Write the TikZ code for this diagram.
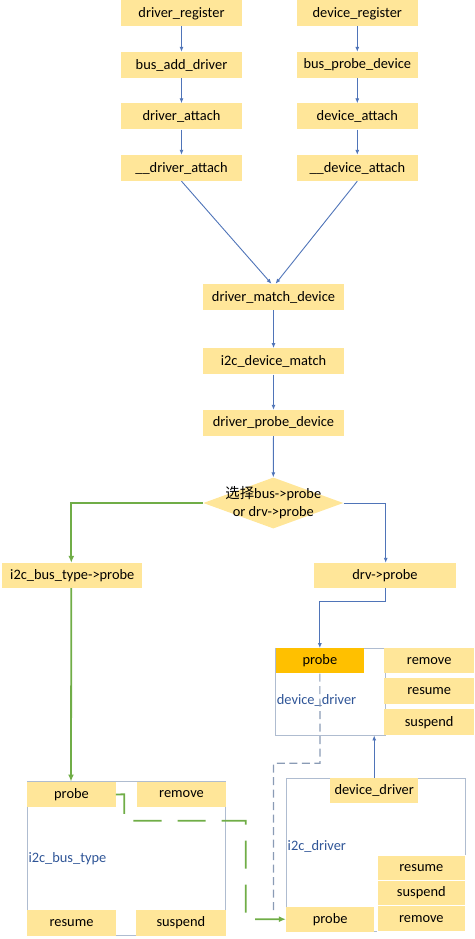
\documentclass[tikz,border=0pt]{standalone}
\usepackage{fontspec}
\setmainfont{Carlito}
\newfontfamily\cjkfont{Noto Sans CJK SC}
\usetikzlibrary{arrows.meta,shapes.geometric}
\definecolor{boxY}{HTML}{FFE699}
\definecolor{boxO}{HTML}{FFC000}
\definecolor{lineB}{HTML}{4F74B8}
\definecolor{frameC}{HTML}{AFBCD0}
\definecolor{dashC}{HTML}{8A9BB5}
\definecolor{grn}{HTML}{70AD47}
\definecolor{lblB}{HTML}{2F5597}
\tikzset{
  fbox/.style={fill=boxY, draw=none, inner sep=0pt, minimum height=26pt, font=\fontsize{14.4}{17}\selectfont, text=black},
  sepbox/.style={fbox, draw=white, line width=0.8pt},
  frame/.style={draw=frameC, line width=0.8pt, inner sep=0pt, fill=none},
  barrow/.style={draw=lineB, line width=0.9pt, -{Latex[length=5pt,width=4pt]}},
  garrow/.style={draw=grn, line width=1.8pt, -{Latex[length=7pt,width=6pt]}},
  lbl/.style={anchor=west, inner sep=0pt, text=lblB, font=\fontsize{14.4}{17}\selectfont},
}
\begin{document}
\begin{tikzpicture}[x=1pt,y=1pt]
\useasboundingbox (0,0) rectangle (474,-939);
% top chains
\node[fbox, minimum width=121pt] (dr) at (181.5,-13.3) {driver\_register};
\node[fbox, minimum width=121pt] (bad) at (181.5,-65) {bus\_add\_driver};
\node[fbox, minimum width=121pt] (da) at (181.5,-116.5) {driver\_attach};
\node[fbox, minimum width=121pt] (dda) at (181.5,-168) {\_\_driver\_attach};
\node[fbox, minimum width=121pt] (dvr) at (357.3,-13.3) {device\_register};
\node[fbox, minimum width=121pt] (bpd) at (357.3,-65) {bus\_probe\_device};
\node[fbox, minimum width=121pt] (dva) at (357.3,-116.5) {device\_attach};
\node[fbox, minimum width=121pt] (ddva) at (357.3,-168) {\_\_device\_attach};
\draw[barrow] (dr) -- (bad);
\draw[barrow] (bad) -- (da);
\draw[barrow] (da) -- (dda);
\draw[barrow] (dvr) -- (bpd);
\draw[barrow] (bpd) -- (dva);
\draw[barrow] (dva) -- (ddva);
% middle chain
\node[fbox, minimum width=141.6pt] (dmd) at (273.5,-297) {driver\_match\_device};
\node[fbox, minimum width=141.6pt] (idm) at (273.5,-361.3) {i2c\_device\_match};
\node[fbox, minimum width=141.6pt] (dpd) at (273.5,-423) {driver\_probe\_device};
\draw[barrow] (dda.south) -- ([xshift=-2pt]dmd.north);
\draw[barrow] (ddva.south) -- ([xshift=2pt]dmd.north);
\draw[barrow] (dmd) -- (idm);
\draw[barrow] (idm) -- (dpd);
% decision
\node[diamond, fill=boxY, inner sep=0pt, minimum width=140pt, minimum height=51pt] (dia) at (273.3,-503) {};
\node[align=center, inner sep=0pt, font=\fontsize{14.4}{18}\selectfont] (diatxt) at (dia.center) {{\cjkfont 选择}bus->probe\\or drv->probe};
\draw[barrow] (dpd) -- (dia.north);
\node[fbox, minimum width=140pt, minimum height=25pt] (bt) at (72.3,-575.5) {i2c\_bus\_type->probe};
\node[fbox, minimum width=142pt, minimum height=25pt] (dp) at (385,-575.5) {drv->probe};
\draw[garrow] (dia.west) -| ([xshift=-1pt]bt.north);
\draw[barrow] (dia.east) -| ([xshift=0.7pt]dp.north);
% device_driver structure
\node[frame, minimum width=109.3pt, minimum height=86.7pt] (ddframe) at (330.3,-691.7) {};
\node[fbox, fill=boxO, minimum width=88.3pt, minimum height=25pt] (ddprobe) at (319.85,-660.8) {probe};
\node[fbox, minimum width=89.7pt, minimum height=25pt] (ddremove) at (429.2,-660.8) {remove};
\node[fbox, minimum width=89.7pt, minimum height=26pt] (ddresume) at (429.2,-691.3) {resume};
\node[fbox, minimum width=89.7pt, minimum height=25.7pt] (ddsuspend) at (429.2,-722.2) {suspend};
\node[lbl] (ddlbl) at (276.7,-700) {device\_driver};
\coordinate (dpturn) at (385.7,-601.7);
\draw[barrow] ([xshift=0.7pt]dp.south) -- (dpturn) -| (ddprobe.north);
% i2c_driver structure
\node[frame, minimum width=179pt, minimum height=153.4pt] (idframe) at (375.5,-855) {};
\node[fbox, minimum width=88.3pt, minimum height=25pt] (idd) at (374.2,-790.8) {device\_driver};
\node[sepbox, minimum width=87.3pt, minimum height=24.3pt] (idresume) at (421.3,-867.8) {resume};
\node[sepbox, minimum width=87.3pt, minimum height=25.7pt] (idsuspend) at (421.3,-892.8) {suspend};
\node[sepbox, minimum width=87.3pt, minimum height=26pt] (idremove) at (421.3,-918.7) {remove};
\node[fbox, minimum width=88.3pt, minimum height=25pt] (idprobe) at (330.2,-919.2) {probe};
\node[lbl] (idlbl) at (287.5,-846.7) {i2c\_driver};
\draw[barrow] (idd.north) -- (idd.north |- ddframe.south);
% dashed link device_driver.probe -> i2c_driver
\coordinate (dsh1) at (320,-763.3);
\coordinate (dsh2) at (273.5,-763.3);
\coordinate (dshend) at (273.5,-912);
\draw[draw=dashC, line width=1.2pt, dash pattern=on 8pt off 4.5pt] (ddprobe.south) -- (dsh1) -- (dsh2) -- (dshend);
% i2c_bus_type structure
\node[frame, minimum width=198.4pt, minimum height=154pt] (btframe) at (126.5,-858.7) {};
\node[fbox, minimum width=88.4pt, minimum height=25.6pt] (bprobe) at (71.5,-794.5) {probe};
\node[fbox, minimum width=88.4pt, minimum height=25.6pt] (bremove) at (181.5,-794.5) {remove};
\node[fbox, minimum width=88.4pt, minimum height=25.7pt] (bresume) at (71.5,-922.85) {resume};
\node[fbox, minimum width=89.7pt, minimum height=25.7pt] (bsuspend) at (180.85,-922.85) {suspend};
\node[lbl] (btlbl) at (28.3,-859) {i2c\_bus\_type};
\draw[garrow] ([xshift=-1pt]bt.south) -- ([xshift=-0.5pt]bprobe.north);
% green dashed link
\coordinate (g1) at (124.3,-794.3);
\coordinate (g2) at (124.3,-820.7);
\coordinate (g3) at (245.7,-820.7);
\coordinate (g4) at (245.7,-919.2);
\draw[draw=grn, line width=1.8pt, dash pattern=on 28pt off 16pt, -{Latex[length=7pt,width=6pt]}] (bprobe.east) -- (g1) -- (g2) -- (g3) -- (g4) -- (idprobe.west);
\end{tikzpicture}
\end{document}
